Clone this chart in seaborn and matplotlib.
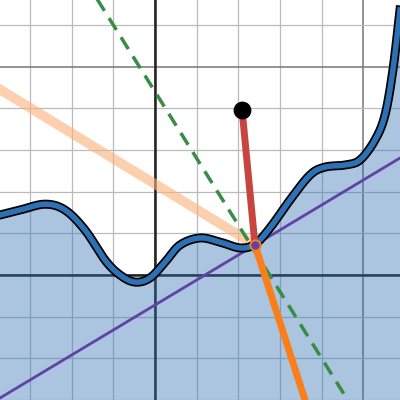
import numpy as np
import pandas as pd
import matplotlib
matplotlib.use("Agg")
import matplotlib.pyplot as plt
import seaborn as sns

# curve points (graph units)
curve_x = [-3.72, -3.24, -2.64, -2.16, -1.68, -1.20, -0.84, -0.48, -0.12, 0.24, 0.60, 1.08,
           1.56, 2.04, 2.40, 2.76, 3.24, 3.72, 4.08, 4.56, 4.92, 5.28, 5.52, 5.71, 5.88]
curve_y = [1.44, 1.56, 1.70, 1.56, 1.08, 0.36, 0.0, -0.17, -0.07, 0.31, 0.72, 0.89,
           0.79, 0.65, 0.74, 1.13, 1.80, 2.40, 2.59, 2.64, 2.76, 3.24, 3.84, 4.92, 6.36]
tangent_pt = (2.40, 0.72)
black_dot = (2.09, 3.96)
purple_slope = 0.6
orange_slope = -3.1
faded_slope = -0.61
green_slope = -1.6
green_x0 = 2.3  # green dashed line crosses y=0.72 near here

XMIN, XMAX, YMIN, YMAX = -3.72, 5.88, -3.0, 6.6


def catmull(xs, ys, n=12):
    p = np.column_stack([xs, ys])
    p = np.vstack([p[0], p, p[-1]])
    out = []
    for i in range(1, len(p) - 2):
        p0, p1, p2, p3 = p[i - 1], p[i], p[i + 1], p[i + 2]
        for t in np.linspace(0, 1, n, endpoint=False):
            out.append(0.5 * ((2 * p1) + (-p0 + p2) * t + (2 * p0 - 5 * p1 + 4 * p2 - p3) * t ** 2
                              + (-p0 + 3 * p1 - 3 * p2 + p3) * t ** 3))
    out.append(p[-2])
    out = np.array(out)
    return out[:, 0], out[:, 1]


sx, sy = catmull(curve_x, curve_y)

fig = plt.figure(figsize=(4, 4), dpi=100)
ax = fig.add_axes([0, 0, 1, 1])
ax.set_xlim(XMIN, XMAX)
ax.set_ylim(YMIN, YMAX)

for v in range(-3, 6):
    ax.axvline(v, color="#bbbbbb" if v % 5 else "#777777", lw=0.9 if v % 5 else 1.1, zorder=0)
for v in range(-3, 7):
    ax.axhline(v, color="#bbbbbb" if v % 5 else "#777777", lw=0.9 if v % 5 else 1.1, zorder=0)
ax.axvline(0, color="#222222", lw=1.8, zorder=1)
ax.axhline(0, color="#222222", lw=1.8, zorder=1)

ax.fill_between(sx, YMIN, sy, color="#2d70b3", alpha=0.4, lw=0, zorder=2)

tx, ty = tangent_pt
xs = np.array([XMIN, XMAX])

# faded orange line, from left edge to tangent point
fx = np.array([XMIN, tx])
sns.lineplot(x=fx, y=ty + faded_slope * (fx - tx), color="#fbb27a", alpha=0.6, lw=7, ax=ax, zorder=3)
sns.lineplot(x=xs, y=ty + purple_slope * (xs - tx), color="#6042a6", lw=2, ax=ax, zorder=4)
sns.lineplot(x=xs, y=ty + green_slope * (xs - green_x0), color="#388c46", lw=2.5,
             linestyle=(0, (4, 2.5)), ax=ax, zorder=4)

df = pd.DataFrame({"x": sx, "y": sy})
sns.lineplot(data=df, x="x", y="y", color="black", lw=6.5, ax=ax, sort=False, zorder=5)
sns.lineplot(data=df, x="x", y="y", color="#2d70b3", lw=4, ax=ax, sort=False, zorder=6)

ox = np.array([tx, XMAX])
sns.lineplot(x=ox, y=ty + orange_slope * (ox - tx), color="#fa7e19", lw=5, ax=ax, zorder=7)
sns.lineplot(x=[tx, black_dot[0]], y=[ty, black_dot[1]], color="#c74440", lw=5, ax=ax, zorder=8)
ax.scatter([black_dot[0]], [black_dot[1]], s=140, color="black", zorder=9)
ax.scatter([tx], [ty], s=60, color="#fa7e19", zorder=9)
ax.scatter([tx], [ty], s=25, color="#6042a6", zorder=10)

ax.set_axis_off()
fig.savefig("out.png", dpi=100)
